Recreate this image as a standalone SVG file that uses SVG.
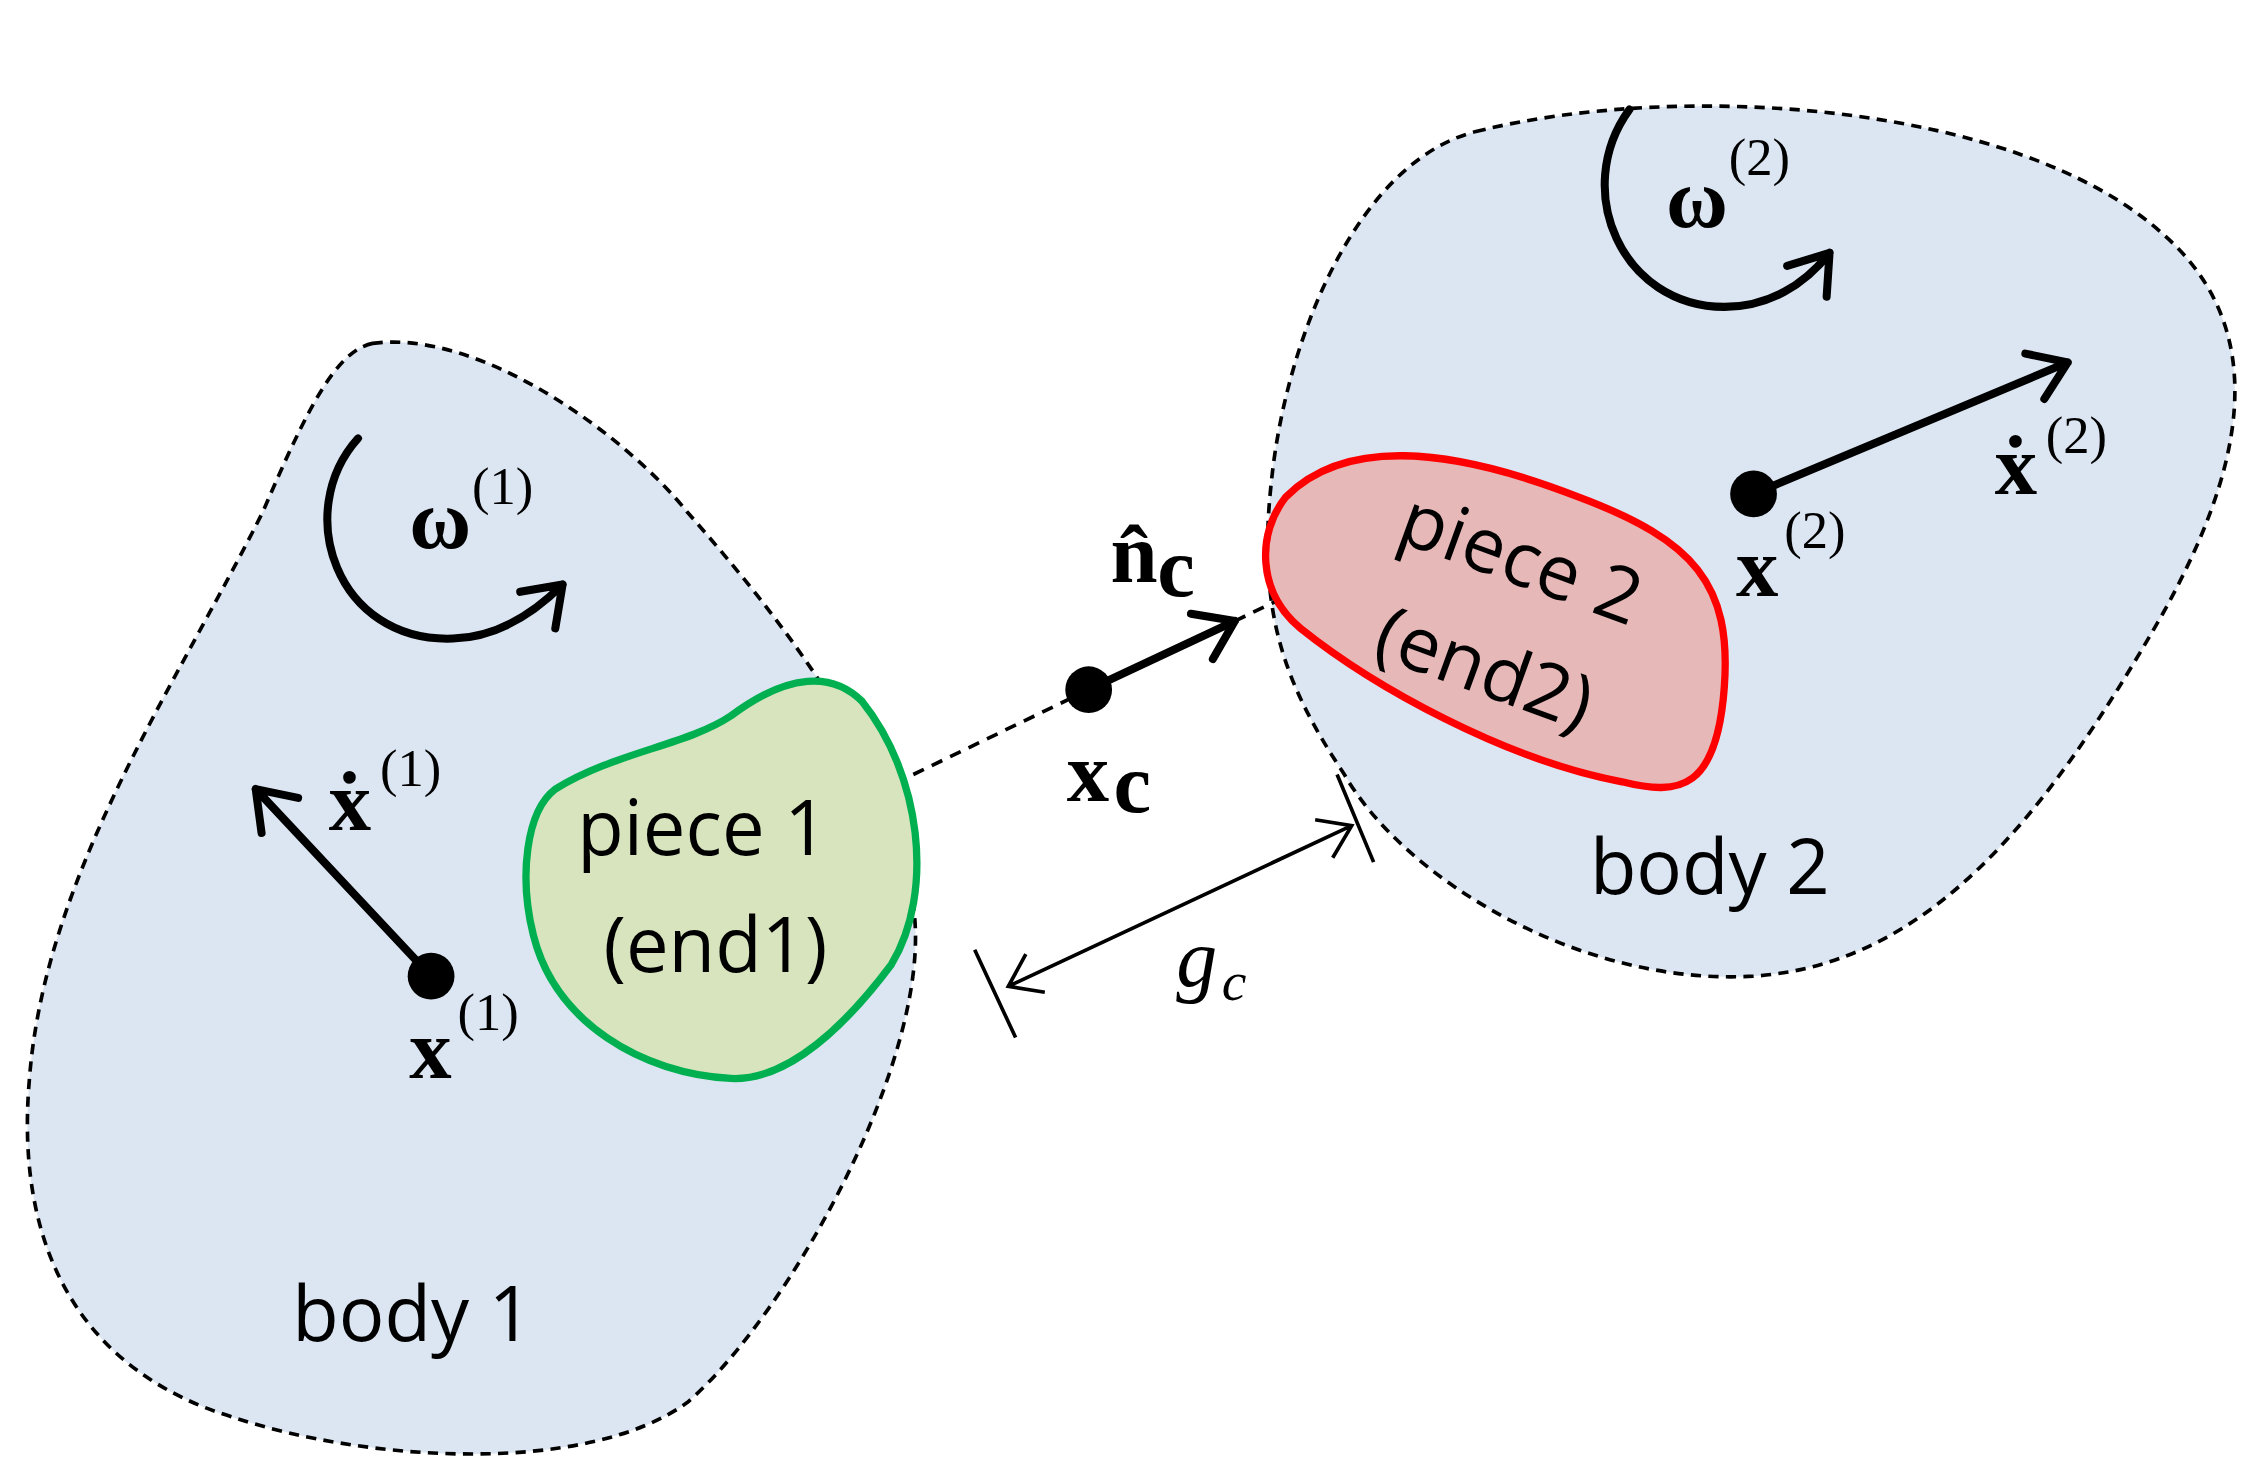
<svg xmlns="http://www.w3.org/2000/svg" width="2268" height="1461" viewBox="0 0 2268 1461">
<defs>
<style>
.body{fill:#dce6f2;stroke:#000;stroke-width:2.5;stroke-dasharray:7 5}
.arr{fill:none;stroke:#000;stroke-width:5.5;stroke-linecap:round;stroke-linejoin:round}
.thin{fill:none;stroke:#000;stroke-width:2.5}
.m{font-family:"Liberation Serif",serif;font-weight:bold;font-size:58px}
.s{font-family:"Liberation Serif",serif;font-size:36px}
.l{font-family:"Open Sans","Liberation Sans",sans-serif;font-size:52px}
</style>
</defs>
<rect width="2268" height="1461" fill="#fff"/>
<g transform="scale(1.4613)">
<g id="body1"><path class="body" d="M255,235 C330,225 430,300 470,350 C540,430 610,520 625,620 C640,720 540,900 470,960 C400,1010 250,1000 160,970 C60,940 10,860 20,740 C30,600 120,470 180,350 C210,280 230,240 255,235 Z"/><text class="l" x="200" y="918">body 1</text></g>
<g id="body2"><path class="body" d="M1010,90 C1150,55 1380,70 1480,160 C1560,230 1530,330 1480,420 C1400,560 1320,660 1200,668 C1080,675 960,600 920,530 C880,470 860,420 870,330 C880,230 930,110 1010,90 Z"/><text class="l" x="1088" y="612">body 2</text></g>
<g id="piece1"><path d="M380,540 C420,515 470,510 500,490 C540,460 570,460 590,480 C630,530 640,610 610,660 C580,700 540,740 500,738 C440,735 380,700 365,640 C355,600 360,555 380,540 Z" fill="#d7e4bd" stroke="#00b050" stroke-width="5"/><text class="l" x="395" y="585">piece 1</text><text class="l" x="413" y="665">(end1)</text></g>
<g id="piece2"><path d="M880,340 C920,300 990,305 1080,340 C1160,370 1185,400 1180,470 C1175,540 1150,545 1110,535 C1030,520 940,470 890,430 C860,405 860,365 880,340 Z" fill="#e6b9b8" stroke="#ff0000" stroke-width="5"/><text class="l" x="1040" y="400" text-anchor="middle" transform="rotate(20 1040 385)">piece 2</text><text class="l" x="1015" y="475" text-anchor="middle" transform="rotate(20 1015 460)">(end2)</text></g>
<g id="connectors">
<path class="arr" d="M245,300 C200,350 230,440 310,437 C340,436 365,420 385,400 M380,430 L385,400 L356,405"/>
<path class="arr" d="M1115,75 C1075,130 1110,210 1180,210 C1210,210 1235,195 1252,173 M1250,203 L1252,173 L1223,182"/>
<path class="arr" d="M295,668 L175,540 M204,546 L175,540 L179,570"/>
<path class="arr" d="M1200,338 L1415,248 M1399,273 L1415,248 L1386,242"/>
<path class="arr" d="M745,472 L845,425 M830,451 L845,425 L815,420"/>
<path class="thin" stroke-dasharray="8 6" d="M625,530 L745,472 M845,425 L872,412"/>
<path class="thin" d="M690,675 L925,565 M912,587 L925,565 L900,561 M715,679 L690,675 L702,653"/>
<path class="thin" d="M667,650 L695,710 M915,530 L940,590"/>
<circle cx="295" cy="668" r="16"/><circle cx="1200" cy="338" r="16"/><circle cx="745" cy="472" r="16"/>
</g>
<g id="labels">
<text class="m" x="280" y="375">ω</text><text class="s" x="323" y="345">(1)</text>
<text class="m" x="1140" y="155">ω</text><text class="s" x="1183" y="120">(2)</text>
<text class="m" x="225" y="568">ẋ</text><text class="s" x="260" y="538">(1)</text>
<text class="m" x="1365" y="338">ẋ</text><text class="s" x="1400" y="310">(2)</text>
<text class="m" x="280" y="738">x</text><text class="s" x="313" y="705">(1)</text>
<text class="m" x="1188" y="408">x</text><text class="s" x="1221" y="375">(2)</text>
<text class="m" x="730" y="548">x</text><text class="m" x="762" y="556" font-size="34">c</text>
<text class="m" x="760" y="398">n̂</text><text class="m" x="792" y="408" font-size="34">c</text>
<text x="805" y="675" font-family="Liberation Serif,serif" font-style="italic" font-size="56">g</text><text x="836" y="684" font-family="Liberation Serif,serif" font-style="italic" font-size="38">c</text>
</g>
</g>
</svg>
